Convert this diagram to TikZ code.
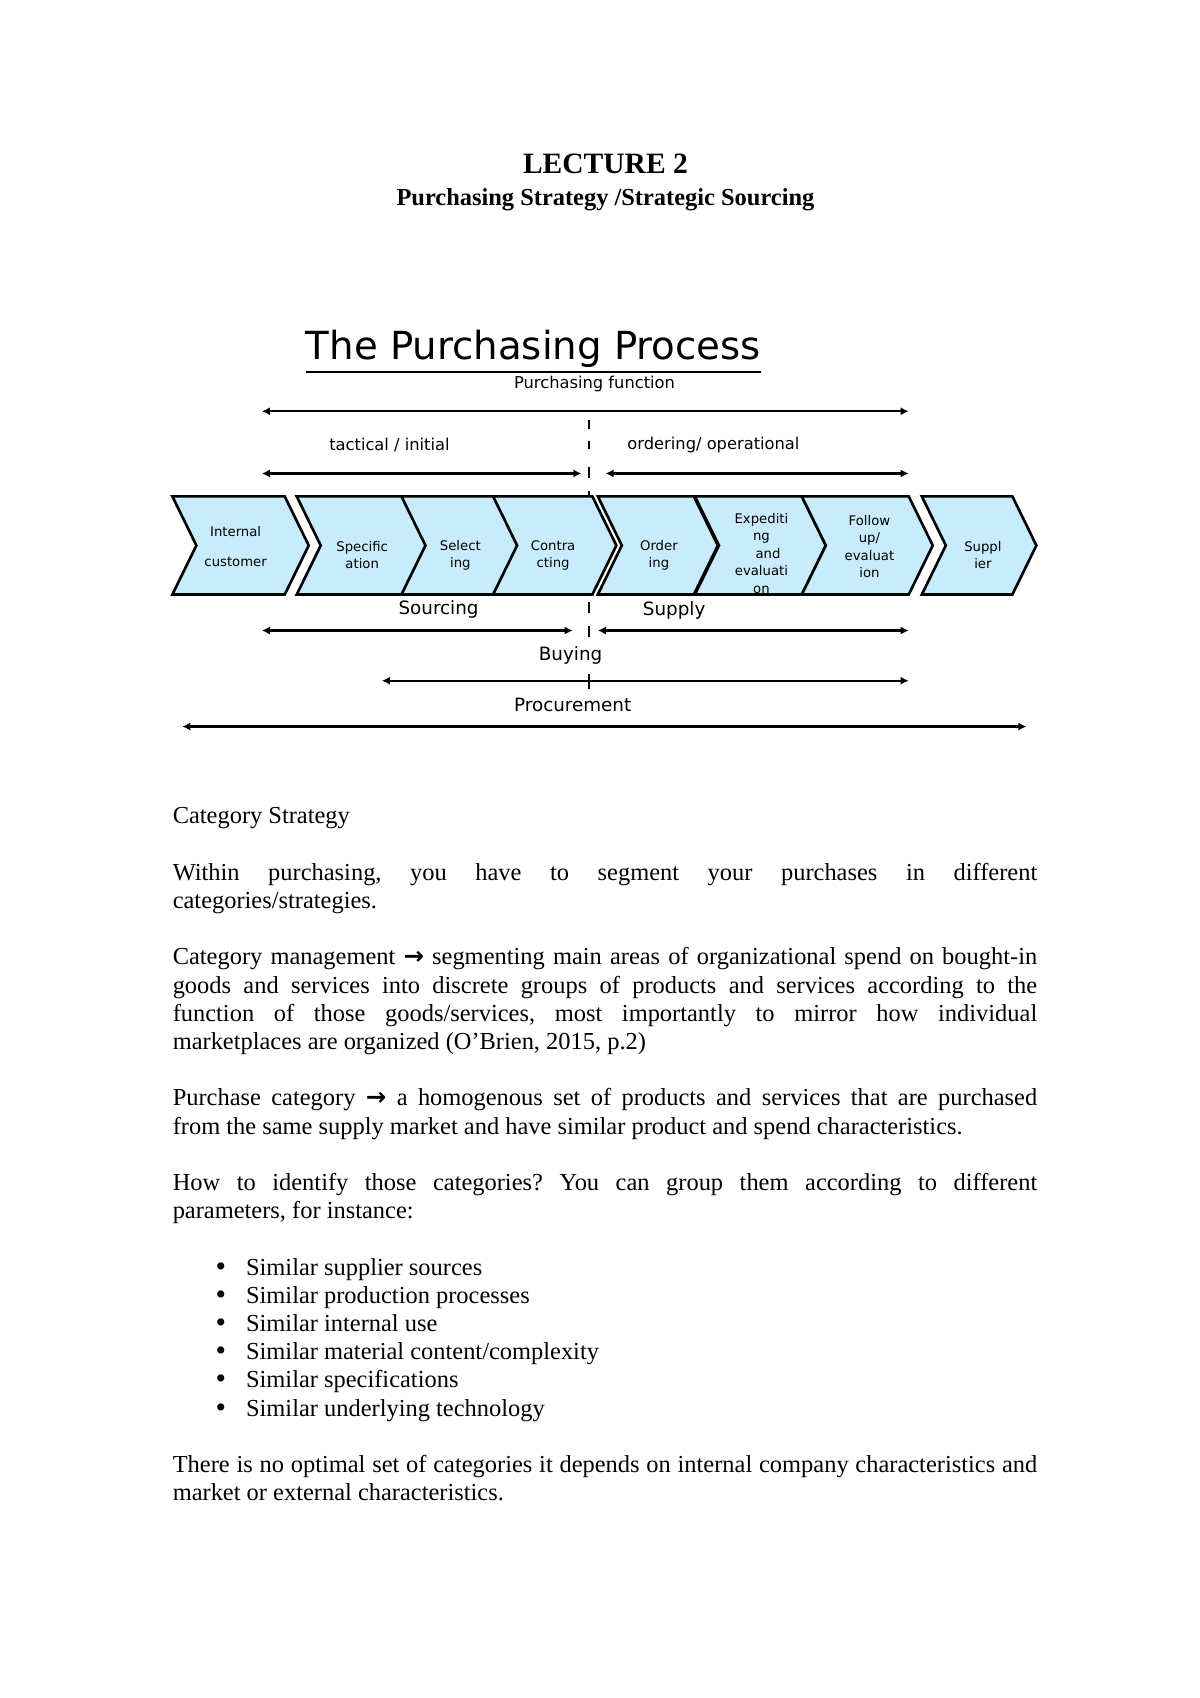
\documentclass[tikz,border=0pt]{standalone}
\usepackage{fontspec}
\setmainfont{Liberation Serif}
\newfontfamily\dia{DejaVu Sans}
\newfontfamily\symf{DejaVu Sans}
\usetikzlibrary{arrows.meta}
\definecolor{chev}{RGB}{200,236,252}
\begin{document}
\begin{tikzpicture}[x=0.5357pt,y=-0.5357pt,
  span/.style={line width=1.1pt,{Latex[length=4pt,width=4pt]}-{Latex[length=4pt,width=4pt]}},
  lbl/.style={font=\dia\fontsize{8}{9}\selectfont},
  lbl2/.style={font=\dia\fontsize{9}{10}\selectfont},
  ctext/.style={font=\dia\fontsize{6.5}{8.6}\selectfont,align=center},
  chevpath/.style={fill=chev,draw=black,line width=1.3pt,line join=miter}]
\useasboundingbox (0,0) rectangle (1100,1556.5);
\node[font=\bfseries\fontsize{14.5}{17}\selectfont] (lec) at (555,150) {LECTURE 2};
\node[font=\bfseries\fontsize{12}{14}\selectfont] (sub) at (555,183) {Purchasing Strategy /Strategic Sourcing};
% diagram title
\node[font=\dia\fontsize{19}{22}\selectfont,inner sep=0pt] (ttl) at (489,320) {The Purchasing Process};
\draw[line width=1pt] ([yshift=-2pt]ttl.south west) -- ([yshift=-2pt]ttl.south east);
\node[lbl] (pf) at (545,352) {Purchasing function};
\coordinate (a1l) at (240,377); \coordinate (a1r) at (833,377);
\draw[span] (a1l) -- (a1r);
\node[lbl] (tac) at (357,408) {tactical / initial};
\node[lbl] (ord) at (654,408) {ordering/ operational};
\coordinate (a2l) at (240,434); \coordinate (a2m) at (533,434);
\coordinate (a3l) at (555,434); \coordinate (a3r) at (833,434);
\draw[span] (a2l) -- (a2m);
\draw[span] (a3l) -- (a3r);
\foreach \ya/\yb in {385/393,404/412,428/438,450/458,552/562,574/584}
  \draw[line width=1.2pt] (540,\ya) -- (540,\yb);
% chevrons
\def\d{22}
\foreach \L/\R/\n in {158/283/c1,272/394/c2,368/477/c3,452/565/c4,548/658/c5,637/757/c6,735/855/c7,845/950/c8}{
  \draw[chevpath] (\L,455) -- ({\R-\d},455) -- (\R,500) -- ({\R-\d},545) -- (\L,545) -- ({\L+\d},500) -- cycle;
  \coordinate (\n) at ({(\L+\R)/2+5},500);
}
\node[ctext] (t1) at (216,501) {Internal\\[6pt]customer};
\node[ctext] (t2) at (332,509) {Specific\\ation};
\node[ctext] (t3) at (422,509) {Select\\ing};
\node[ctext] (t4) at (507,509) {Contra\\cting};
\node[ctext] (t5) at (604,509) {Order\\ing};
\node[ctext] (t6) at (698,507) {Expediti\\ng\\\hspace*{1em}and\\evaluati\\on};
\node[ctext] (t7) at (797,501) {Follow\\up/\\evaluat\\ion};
\node[ctext] (t8) at (901,509) {Suppl\\ier};
\node[lbl2] (src) at (402,559) {Sourcing};
\node[lbl2] (sup) at (618,560) {Supply};
\coordinate (a4l) at (240,578); \coordinate (a4m) at (525,578);
\coordinate (a5l) at (548,578); \coordinate (a5r) at (833,578);
\draw[span] (a4l) -- (a4m);
\draw[span] (a5l) -- (a5r);
\node[lbl2] (buy) at (523,601) {Buying};
\coordinate (a6l) at (350,624); \coordinate (a6r) at (833,624);
\draw[span] (a6l) -- (a6r);
\draw[line width=1pt] (540,618) -- (540,632);
\node[lbl2] (proc) at (525,646) {Procurement};
\coordinate (a7l) at (167,666); \coordinate (a7r) at (941,666);
\draw[span] (a7l) -- (a7r);
% body text
\node[anchor=north west,inner sep=0pt,text width=424.5pt,align=justify,
  font=\fontsize{12}{13.85}\selectfont] (body) at (158,740) {%
\frenchspacing
\setlength{\parskip}{13.85pt}%
Category Strategy\par
Within purchasing, you have to segment your purchases in different\linebreak categories/strategies.\par
Category management {\symf\bfseries →} segmenting main areas of organizational spend on bought-in\linebreak goods and services into discrete groups of products and services according to the\linebreak function of those goods/services, most importantly to mirror how individual\linebreak marketplaces are organized (O’Brien, 2015, p.2)\par
Purchase category {\symf\bfseries →} a homogenous set of products and services that are purchased\linebreak from the same supply market and have similar product and spend characteristics.\par
How to identify those categories? You can group them according to different\linebreak parameters, for instance:\par
\leavevmode\hspace*{20pt}\makebox[16pt][l]{\symf •}Similar supplier sources\par
\setlength{\parskip}{0pt}%
\leavevmode\hspace*{20pt}\makebox[16pt][l]{\symf •}Similar production processes\par
\leavevmode\hspace*{20pt}\makebox[16pt][l]{\symf •}Similar internal use\par
\leavevmode\hspace*{20pt}\makebox[16pt][l]{\symf •}Similar material content/complexity\par
\leavevmode\hspace*{20pt}\makebox[16pt][l]{\symf •}Similar specifications\par
\leavevmode\hspace*{20pt}\makebox[16pt][l]{\symf •}Similar underlying technology\par
\setlength{\parskip}{13.85pt}%
There is no optimal set of categories it depends on internal company characteristics and\linebreak market or external characteristics.\par};
\end{tikzpicture}
\end{document}
